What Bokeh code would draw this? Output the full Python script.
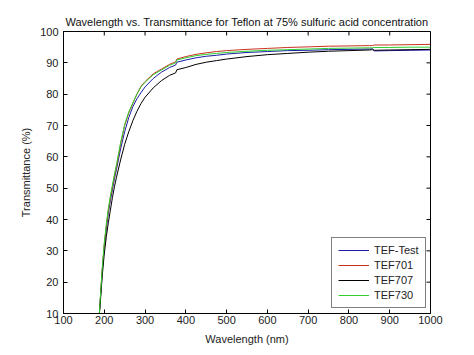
import math
from bokeh.plotting import figure
from bokeh.models import Range1d, Legend, LegendItem, FixedTicker
from bokeh.embed import file_html
from bokeh.resources import INLINE

# ---------------- data ----------------
wavelength = [188, 190, 195, 200, 205, 210, 215, 220, 225, 230, 240, 250, 260, 270,
              280, 290, 300, 320, 340, 360, 375, 378, 400, 425, 450, 475, 500, 550,
              600, 650, 700, 750, 800, 850, 858, 862, 900, 950, 1000]

tef_test = [10, 14, 23.5, 31, 37, 42, 46, 49.5, 53, 56, 62.5, 68, 72.5, 76,
            78.5, 80.5, 82.3, 85, 87, 88.5, 89.3, 90.2, 90.9, 91.6, 92.1, 92.4, 92.8, 93.3,
            93.6, 93.9, 94.0, 94.2, 94.3, 94.4, 94.5, 93.8, 93.9, 94.0, 94.1]

tef701 = [10, 14, 24, 32, 38, 43, 47, 50.5, 54, 57, 64, 70, 74, 77,
          80, 82.5, 84, 86.5, 88, 89.5, 90.3, 91.2, 92, 92.7, 93.2, 93.6, 93.9, 94.3,
          94.6, 94.9, 95.1, 95.3, 95.4, 95.5, 95.5, 95.7, 95.7, 95.8, 95.9]

tef707 = [10, 13, 22, 29, 34.5, 39, 43, 47, 50.5, 53.5, 59, 64, 68, 71.5,
          74.5, 77, 79, 82, 84.3, 86, 86.8, 87.8, 88.5, 89.5, 90.2, 90.7, 91.2, 92,
          92.6, 93.0, 93.4, 93.7, 93.9, 94.1, 94.2, 94.0, 94.1, 94.2, 94.3]

tef730 = [10, 14.5, 24.5, 32.5, 38.5, 43.5, 47.5, 51, 54.5, 57.5, 64.5, 70.3, 74.3, 77.2,
          80, 82.3, 83.8, 86.2, 87.7, 89.2, 90, 90.9, 91.6, 92.3, 92.7, 93.0, 93.3, 93.7,
          94.0, 94.2, 94.4, 94.6, 94.7, 94.8, 94.8, 94.9, 94.9, 95.0, 95.0]

x_ticks = [100, 200, 300, 400, 500, 600, 700, 800, 900, 1000]
y_ticks = [10, 20, 30, 40, 50, 60, 70, 80, 90, 100]
x_min, x_max = 100, 1000
y_min, y_max = 10, 100

series_names = ["TEF-Test", "TEF701", "TEF707", "TEF730"]
series_colors = ["#1c1ca8", "#c8321e", "#000000", "#2ed02e"]

FONT = "Liberation Sans"

p = figure(width=466, height=347, output_backend="svg", toolbar_location=None,
           x_range=Range1d(x_min, x_max), y_range=Range1d(y_min, y_max),
           min_border_left=63, min_border_right=36, min_border_top=31, min_border_bottom=31)

p.title.text = "Wavelength vs. Transmittance for Teflon at 75% sulfuric acid concentration"
p.title.text_font = FONT
p.title.text_font_size = "11px"
p.title.text_font_style = "normal"
p.title.text_color = "#111111"
p.title.align = "center"
p.title.offset = 0
p.title.standoff = 8

p.grid.visible = False
p.outline_line_color = "black"
p.outline_line_width = 1
p.background_fill_color = "white"
p.border_fill_color = "white"

def style_axis(ax, ticks):
    ax.ticker = FixedTicker(ticks=ticks)
    ax.major_tick_in = 4
    ax.major_tick_out = 0
    ax.minor_tick_in = 0
    ax.minor_tick_out = 0
    ax.axis_line_color = "black"
    ax.major_tick_line_color = "black"
    ax.major_label_text_font = FONT
    ax.major_label_text_font_size = "11px"
    ax.major_label_text_color = "#222222"
    ax.axis_label_text_font = FONT
    ax.axis_label_text_font_size = "11px"
    ax.axis_label_text_font_style = "normal"
    ax.axis_label_text_color = "#222222"

xa = p.xaxis[0]
style_axis(xa, x_ticks)
xa.axis_label = "Wavelength (nm)"
xa.major_label_standoff = 2
xa.axis_label_standoff = 6
ya = p.yaxis[0]
style_axis(ya, y_ticks)
ya.axis_label = "Transmittance (%)"
ya.major_label_standoff = 5
ya.axis_label_standoff = 5

# inward tick marks on the top and right edges of the box (MATLAB style)
p.ray(x=x_ticks, y=[y_max] * len(x_ticks), length=4, length_units="screen",
      angle=-math.pi / 2, line_color="black", line_width=1)
p.ray(x=[x_max] * len(y_ticks), y=y_ticks, length=4, length_units="screen",
      angle=math.pi, line_color="black", line_width=1)

items = []
for name, col, ys in zip(series_names, series_colors, [tef_test, tef701, tef707, tef730]):
    r = p.line(wavelength, ys, line_color=col, line_width=1)
    items.append(LegendItem(label=name, renderers=[r]))

legend = Legend(items=items, location=(268, 5))
legend.label_text_font = FONT
legend.label_text_font_size = "11px"
legend.label_text_color = "#222222"
legend.border_line_color = "black"
legend.border_line_width = 1
legend.background_fill_alpha = 1
legend.glyph_width = 31
legend.glyph_height = 12
legend.label_height = 12
legend.spacing = 3
legend.padding = 6
legend.margin = 0
legend.label_standoff = 5
p.add_layout(legend, "center")

open("out.html", "w").write(file_html(p, INLINE))
